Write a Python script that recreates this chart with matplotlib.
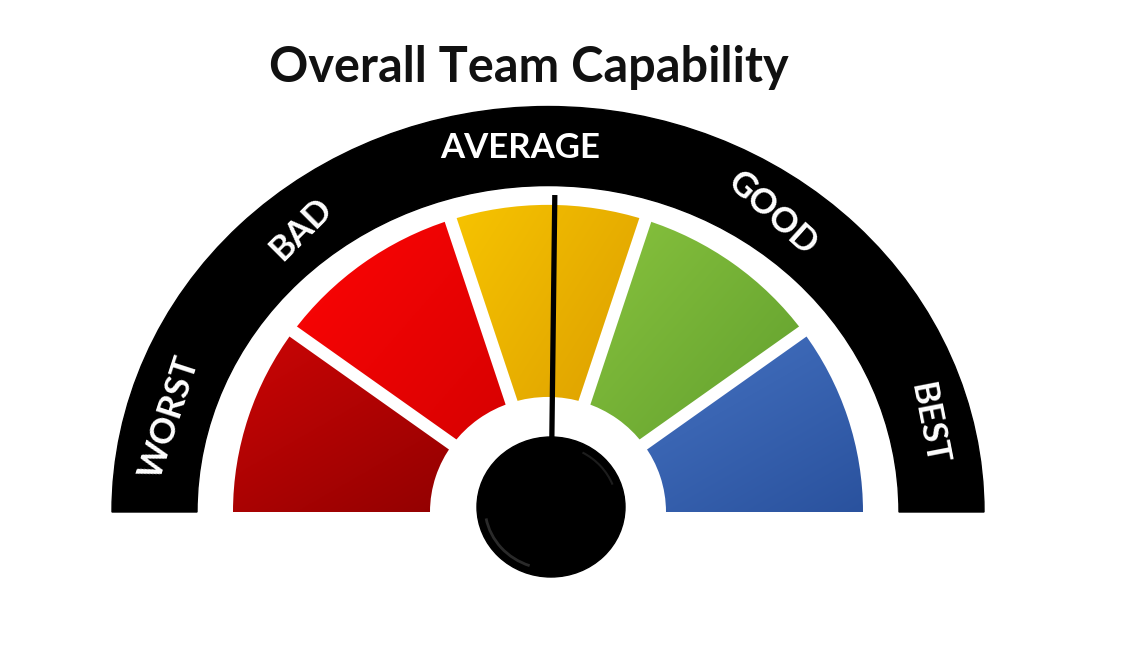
import numpy as np
import matplotlib.pyplot as plt
from matplotlib.patches import Wedge, Ellipse, Arc
from matplotlib.colors import LinearSegmentedColormap
from matplotlib.transforms import Affine2D

# Dados do medidor
titulo = "Overall Team Capability"
categorias = ["WORST", "BAD", "AVERAGE", "GOOD", "BEST"]
cores_claras = ["#cc0505", "#ff0505", "#f7c400", "#8cc63f", "#4a78c8"]
cores_escuras = ["#880000", "#cc0000", "#d69600", "#5b9a2c", "#2a529e"]
valor = 50  # posicao do ponteiro (0 a 100)

# Posicao (angulo) e rotacao dos rotulos na faixa preta, em graus
angulos_rotulos = [165, 129, 94, 55, 14]
rotacoes_rotulos = [72, 45, 0, -42, -79]

fig = plt.figure(figsize=(11.4, 6.59), dpi=100)
ax = fig.add_axes([0, 0, 1, 1])
ax.set_xlim(-548, 592)
ax.set_ylim(-147, 512)
ax.axis('off')

plt.rcParams['font.family'] = ['Lato', 'DejaVu Sans']

# Faixa preta externa
k_faixa = 0.93
tr_faixa = Affine2D().scale(1, k_faixa) + ax.transData
ax.add_patch(Wedge((0, 0), 436, 0, 180, width=85, color='black', transform=tr_faixa, zorder=1))

# Rotulos na faixa
r_rot = 392
for nome, ang, rot in zip(categorias, angulos_rotulos, rotacoes_rotulos):
    a = np.radians(ang)
    x = r_rot * np.cos(a)
    y = r_rot * np.sin(a) * k_faixa
    ax.text(x, y, nome, color='white', fontsize=25, fontweight='bold',
            rotation=rot, rotation_mode='anchor', ha='center', va='center', zorder=3)

# Segmentos coloridos com gradiente
k_seg = 0.975
tr_seg = Affine2D().scale(1, k_seg)
r_ext, r_int = 315, 118
n = len(categorias)
passo = 180 / n
for i in range(n):
    a0 = 180 - (i + 1) * passo
    a1 = 180 - i * passo
    cunha = Wedge((0, 0), r_ext, a0, a1, width=r_ext - r_int, transform=tr_seg + ax.transData)
    verts = tr_seg.transform(cunha.get_path().vertices)
    xmin, ymin = verts.min(axis=0)
    xmax, ymax = verts.max(axis=0)
    gx, gy = np.meshgrid(np.linspace(0, 1, 200), np.linspace(0, 1, 200))
    grad = (gx + gy) / 2
    cmap = LinearSegmentedColormap.from_list('g%d' % i, [cores_claras[i], cores_escuras[i]])
    im = ax.imshow(grad, cmap=cmap, extent=[xmin, xmax, ymin, ymax], origin='upper',
                   aspect='auto', zorder=2, interpolation='bilinear')
    im.set_clip_path(cunha)

# Separadores brancos entre segmentos
for i in range(1, n):
    a = np.radians(i * passo)
    ax.plot([0, 330 * np.cos(a)], [0, 330 * np.sin(a) * k_seg], color='white',
            lw=9, solid_capstyle='butt', zorder=2.5)

# Ponteiro
cx, cy = 3, 5
ang_p = np.radians(180 - valor / 100 * 180 - 0.7)
ax.plot([cx, cx + 312 * np.cos(ang_p)], [cy, cy + 312 * np.sin(ang_p)], color='black',
        lw=3.8, solid_capstyle='butt', zorder=4)

# Botao central
ax.add_patch(Ellipse((cx, cy), 148, 140, color='black', zorder=5))
ax.add_patch(Arc((cx, cy), 132, 124, theta1=190, theta2=250, ec='#555555', lw=2, alpha=0.5, zorder=5))
ax.add_patch(Arc((cx, cy), 132, 124, theta1=20, theta2=60, ec='#555555', lw=1.5, alpha=0.35, zorder=5))

# Titulo
ax.text(-19, 444, titulo, fontsize=35, fontweight='bold', color='#111111',
        ha='center', va='center', zorder=5)

fig.savefig('out.png', dpi=100, facecolor='white')
